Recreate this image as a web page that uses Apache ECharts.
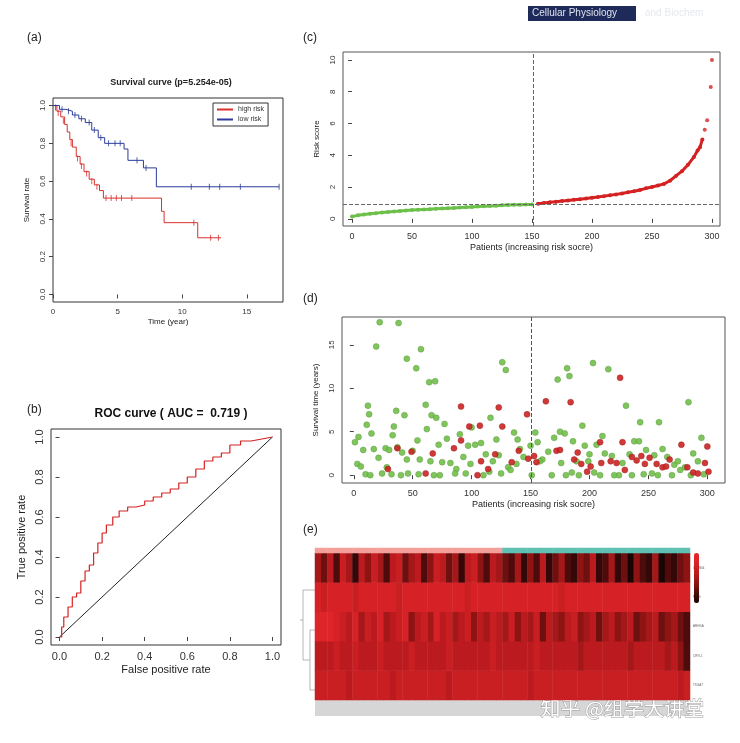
<!DOCTYPE html>
<html><head><meta charset="utf-8">
<script src="https://cdn.jsdelivr.net/npm/echarts@6/dist/echarts.min.js"></script>
<style>html,body{margin:0;padding:0;background:#fff}#c{width:740px;height:743px}</style>
</head><body><div id="c"></div>
<script>
// (a) Kaplan-Meier steps [time, survival]
const kmHigh = [[0,1],[0.3,0.97],[0.6,0.94],[0.9,0.9],[1.1,0.86],[1.3,0.82],[1.5,0.78],[1.8,0.73],[2.1,0.69],[2.4,0.65],[2.8,0.61],[3.2,0.58],[3.6,0.55],[3.9,0.51],[8.4,0.44],[8.6,0.38],[11.2,0.30],[13,0.30]];
const kmLow = [[0,1],[0.5,0.98],[1,0.97],[1.5,0.95],[2,0.93],[2.5,0.91],[3,0.87],[3.5,0.83],[4,0.80],[5.5,0.77],[5.8,0.71],[7,0.67],[8,0.57],[17.5,0.57]];
const censHigh = [[0.4,0.96],[0.8,0.92],[1.4,0.8],[1.9,0.72],[2.2,0.68],[2.6,0.64],[3,0.6],[3.4,0.57],[4.1,0.51],[4.5,0.51],[4.9,0.51],[5.3,0.51],[6.1,0.51],[10.9,0.38],[12.2,0.30],[12.8,0.30]];
const censLow = [[0.2,0.99],[0.7,0.98],[1.2,0.97],[1.7,0.95],[2.2,0.93],[2.8,0.91],[3.2,0.87],[3.7,0.83],[4.3,0.80],[4.8,0.80],[5.2,0.80],[6.5,0.71],[7.2,0.67],[10.7,0.57],[12.1,0.57],[12.9,0.57],[14.5,0.57],[17.5,0.57]];
const xTicksA = [0,5,10,15];
const yTicksA = [0,0.2,0.4,0.6,0.8,1.0];
// (b) ROC
const roc = [[0,0],[0.01,0.05],[0.02,0.1],[0.04,0.15],[0.06,0.2],[0.08,0.22],[0.1,0.28],[0.12,0.33],[0.14,0.36],[0.16,0.42],[0.18,0.47],[0.2,0.52],[0.22,0.56],[0.25,0.6],[0.28,0.63],[0.32,0.65],[0.36,0.66],[0.4,0.68],[0.44,0.7],[0.48,0.72],[0.52,0.74],[0.56,0.77],[0.6,0.8],[0.64,0.84],[0.68,0.88],[0.72,0.9],[0.76,0.92],[0.8,0.96],[0.85,0.98],[0.9,0.99],[0.95,1.0],[1,1]];
const ticksB = [0,0.2,0.4,0.6,0.8,1.0];
// (c) risk score sorted
const riskScore = [[0,0.15],[5,0.22],[10,0.28],[15,0.32],[20,0.36],[25,0.40],[30,0.43],[35,0.46],[40,0.49],[45,0.52],[50,0.55],[55,0.57],[60,0.59],[65,0.61],[70,0.63],[75,0.65],[80,0.67],[85,0.69],[90,0.71],[95,0.73],[100,0.75],[105,0.77],[110,0.79],[115,0.81],[120,0.83],[125,0.85],[130,0.87],[135,0.88],[140,0.89],[145,0.90],[150,0.91],[155,0.95],[160,1.0],[165,1.04],[170,1.08],[175,1.12],[180,1.16],[185,1.2],[190,1.24],[195,1.28],[200,1.33],[205,1.38],[210,1.43],[215,1.48],[220,1.54],[225,1.6],[230,1.67],[235,1.74],[240,1.82],[245,1.92],[250,2.0],[255,2.1],[260,2.2],[265,2.4],[270,2.7],[275,3.0],[280,3.4],[285,3.9],[288,4.3],[290,4.5],[292,5.0]];
const riskTail = [[294,5.6],[296,6.2],[299,8.3],[300,10]];
const cutoff = 151, riskCut = 0.9;
const xTicksC = [0,50,100,150,200,250,300];
const yTicksC = [0,2,4,6,8,10];
// (d) survival time: green alive, red dead
const alive = [[22,17.6],[38,17.5],[19,14.8],[57,14.5],[45,13.4],[53,12.3],[64,10.7],[69,10.8],[126,13],[129,12.1],[203,12.9],[181,12.3],[183,11.4],[173,11],[216,12.2],[231,8],[284,8.4],[12,8],[13,7],[11,5.8],[15,4.8],[36,7.4],[43,6.9],[34,5.6],[61,8.1],[62,5.3],[66,6.9],[70,6.6],[77,5.9],[116,6.6],[194,5.7],[243,6.1],[259,6.1],[1,3.8],[4,4.4],[33,4.6],[54,4],[79,4.2],[90,4.7],[100,5.5],[121,4.1],[136,4.9],[139,4.1],[154,4.9],[175,5],[179,4.8],[211,4.5],[295,4.3],[8,2.9],[17,3],[21,2],[27,3.1],[30,2.9],[37,3.2],[41,2.6],[45,1.8],[50,2.8],[56,1.8],[65,1.6],[72,3.5],[75,1.5],[82,1.4],[87,0.7],[93,2.1],[97,3.4],[103,3.5],[108,3.7],[112,2.4],[118,1.6],[123,2.3],[131,0.9],[141,3],[144,2.1],[150,3.4],[156,3.8],[160,1.8],[165,2.7],[170,4.3],[176,1.4],[186,3.9],[189,1.6],[196,3.4],[200,2.4],[206,3.5],[213,2.5],[219,2.2],[228,1.4],[234,2.4],[238,3.9],[242,3.9],[248,2.9],[255,2.3],[262,3],[266,2.1],[272,1.2],[275,1.6],[281,0.9],[288,2.5],[292,1.6],[3,1.3],[6,1],[10,0.1],[14,0],[24,0.2],[28,0.9],[32,0.1],[40,0],[46,0.2],[55,0.1],[68,0],[73,0],[86,0.2],[95,0.2],[99,1.3],[110,0],[115,0.4],[125,0.2],[133,0.6],[138,1.3],[151,0],[158,1.6],[168,0],[180,0],[185,0.3],[191,0],[199,1.6],[204,0.3],[209,0],[221,0],[225,0],[236,0],[246,0.1],[253,0.2],[258,0],[270,0],[277,0.6],[286,0],[297,0.1]];
const dead = [[29,0.7],[37,3.1],[49,2.7],[61,0.2],[67,2.5],[85,3.1],[91,7.9],[91,4],[98,5.6],[105,0],[107,5.7],[108,1.6],[114,0.7],[120,2.4],[123,7.8],[126,5.6],[134,1.5],[140,2.8],[147,7],[148,1.9],[153,2.2],[155,1.5],[163,8.5],[172,2.8],[175,2.9],[184,8.4],[187,1.8],[190,2.6],[193,1.3],[198,0.4],[201,1],[209,3.8],[210,1.4],[218,1.6],[223,1.4],[226,11.2],[228,3.8],[230,0.6],[236,2.1],[240,1.7],[244,2.2],[247,1.3],[251,2],[257,1.3],[262,0.9],[265,1],[268,1.8],[278,3.5],[283,0.9],[288,0.3],[292,0.2],[298,1.4],[300,3.3],[301,0.4]];
const yTicksD = [0,5,10,15];
// (e) heatmap rows (expression level 0..10)
const genes = ['TSGA7','CRYL1','ARHGA','PSA6','LGSN04'];
const rowA = [5,3,6,2,7,5,1,6,4,7,5,2,6,7,3,5,6,2,4,7,6,3,5,1,6,7,4,2,6,5,3,2,5,1,4,2,6,1,3,5,2,1,4,3,6,1,2,5,1,3,0,4,2,1,5,0,2,1,3,4];
const rowB = [8,7,8,8,8,8,7,8,8,8,8,8,8,7,8,8,8,8,8,8,8,8,8,8,7,8,8,8,8,8,8,8,8,8,8,8,8,8,8,7,8,8,8,8,8,8,8,8,8,8,8,8,8,8,8,8,8,8,8,8];
const rowC = [9,9,9,8,7,6,8,5,7,6,8,5,6,7,8,4,6,7,5,8,6,7,5,6,7,4,6,5,7,6,5,7,4,6,5,7,3,6,5,4,6,7,4,5,6,3,5,6,4,5,6,3,4,5,6,3,4,5,3,2];
const rowD = [6,6,6,7,6,6,7,6,6,6,7,6,6,6,6,7,6,6,6,6,6,7,6,6,6,6,6,6,7,6,6,6,6,6,6,7,6,6,6,6,6,6,5,6,6,6,6,6,6,6,5,6,6,6,6,6,5,6,4,2];
const rowE = [7,7,7,7,7,6,7,7,7,7,7,7,6,7,7,7,7,7,7,7,7,6,7,7,7,7,7,7,7,7,7,7,7,7,6,7,7,7,7,7,7,7,7,7,7,7,7,7,7,7,7,7,7,7,7,7,7,7,6,7];
const groupRow = [0,0,0,0,0,0,0,0,0,0,0,0,0,0,0,0,0,0,0,0,0,0,0,0,0,0,0,0,0,0,1,1,1,1,1,1,1,1,1,1,1,1,1,1,1,1,1,1,1,1,1,1,1,1,1,1,1,1,1,1];

const F = 'Liberation Sans';
const cols = rowA.map((_, i) => i);
const rows = [rowE, rowD, rowC, rowB, rowA];
const hmData = [];
rows.forEach((r, ri) => r.forEach((v, ci) => hmData.push([ci, ri, v])));
const grpData = groupRow.map((g, i) => [i, 0, g]);
const fmt1 = v => v.toFixed(1);
const fmt0 = v => String(Math.round(v));

function valAxis(gi, min, max, ticks, rot, name, nameGap, fs, f) {
  return {
    type: 'value', gridIndex: gi, min, max, name, nameLocation: 'middle', nameGap,
    nameTextStyle: {fontFamily: F, fontSize: fs, color: '#222'},
    axisLine: {show: false}, splitLine: {show: false},
    axisTick: {show: true, inside: false, length: 4, customValues: ticks, lineStyle: {color: '#444'}},
    axisLabel: {customValues: ticks, fontFamily: F, fontSize: fs, color: '#333', rotate: rot, margin: 6, formatter: f}
  };
}

const chart = echarts.init(document.getElementById('c'));
chart.setOption({
  animation: false,
  backgroundColor: '#fff',
  title: [
    {text: 'Survival curve (p=5.254e-05)', left: 166, top: 73, textAlign: 'center', textStyle: {fontFamily: F, fontSize: 9, fontWeight: 'bold', color: '#222'}},
    {text: 'ROC curve ( AUC =  0.719 )', left: 166, top: 403, textAlign: 'center', textStyle: {fontFamily: F, fontSize: 12, fontWeight: 'bold', color: '#111'}}
  ],
  grid: [
    {left: 53, top: 98, width: 230, height: 204, show: true, borderColor: '#333', borderWidth: 1},
    {left: 51, top: 429, width: 230, height: 216, show: true, borderColor: '#333', borderWidth: 1},
    {left: 343, top: 52, width: 377, height: 174, show: true, borderColor: '#555', borderWidth: 1},
    {left: 342, top: 317, width: 383, height: 166, show: true, borderColor: '#555', borderWidth: 1},
    {left: 315, top: 553, width: 375, height: 147},
    {left: 315, top: 548, width: 375, height: 5}
  ],
  xAxis: [
    valAxis(0, 0, 17.8, xTicksA, 0, 'Time (year)', 16, 8, fmt0),
    valAxis(1, -0.04, 1.04, ticksB, 0, 'False positive rate', 19, 11, fmt1),
    valAxis(2, -7.5, 306.7, xTicksC, 0, 'Patients (increasing risk socre)', 17, 9, fmt0),
    valAxis(3, -10, 315, xTicksC, 0, 'Patients (increasing risk socre)', 17, 9, fmt0),
    {type: 'category', gridIndex: 4, data: cols, show: false},
    {type: 'category', gridIndex: 5, data: cols, show: false}
  ],
  yAxis: [
    valAxis(0, -0.04, 1.04, yTicksA, 90, 'Survival rate', 22, 8, fmt1),
    valAxis(1, -0.04, 1.04, ticksB, 90, 'True positive rate', 24, 11, fmt1),
    valAxis(2, -0.45, 10.5, yTicksC, 90, 'Risk score', 20, 8, fmt0),
    valAxis(3, -0.9, 18.2, yTicksD, 90, 'Survival time (years)', 20, 8, fmt0),
    {type: 'category', gridIndex: 4, data: genes, position: 'right', axisLine: {show: false}, axisTick: {show: false}, axisLabel: {fontSize: 3, color: '#666', margin: 3}},
    {type: 'category', gridIndex: 5, data: ['Risk'], show: false}
  ],
  visualMap: [
    {type: 'continuous', seriesIndex: 10, min: 0, max: 10, calculable: false, right: 26, top: 538, itemWidth: 5, itemHeight: 50,
     text: ['', ''], textStyle: {fontSize: 4, color: '#666'},
     inRange: {color: ['#1a0505', '#4d0b0b', '#8e1414', '#bb1b1e', '#d62226', '#e6282c']}},
    {type: 'piecewise', seriesIndex: 11, show: false, pieces: [{value: 0, color: '#f4a09a'}, {value: 1, color: '#5fc0b4'}]}
  ],
  legend: {
    data: ['high risk', 'low risk'], orient: 'vertical', left: 213, top: 103, itemWidth: 16, itemHeight: 2, itemGap: 3,
    icon: 'rect', textStyle: {fontFamily: F, fontSize: 7, color: '#333'},
    borderColor: '#333', borderWidth: 1, padding: [3, 4], backgroundColor: '#fff'
  },
  series: [
    {name: 'high risk', type: 'line', step: 'end', xAxisIndex: 0, yAxisIndex: 0, data: kmHigh, showSymbol: false, lineStyle: {color: '#d9302c', width: 1}, itemStyle: {color: '#d9302c'}},
    {name: 'low risk', type: 'line', step: 'end', xAxisIndex: 0, yAxisIndex: 0, data: kmLow, showSymbol: false, lineStyle: {color: '#2c3c9c', width: 1}, itemStyle: {color: '#2c3c9c'}},
    {type: 'scatter', xAxisIndex: 0, yAxisIndex: 0, data: censHigh, symbol: 'rect', symbolSize: [1, 6], itemStyle: {color: '#d9302c'}},
    {type: 'scatter', xAxisIndex: 0, yAxisIndex: 0, data: censLow, symbol: 'rect', symbolSize: [1, 6], itemStyle: {color: '#2c3c9c'}},
    {type: 'line', xAxisIndex: 1, yAxisIndex: 1, data: [[0, 0], [1, 1]], showSymbol: false, lineStyle: {color: '#222', width: 1}},
    {type: 'line', step: 'end', xAxisIndex: 1, yAxisIndex: 1, data: roc, showSymbol: false, lineStyle: {color: '#d42222', width: 1.2}},
    {type: 'line', xAxisIndex: 2, yAxisIndex: 2, data: riskScore.filter(p => p[0] <= cutoff), showSymbol: true, symbol: 'circle', symbolSize: 4,
     lineStyle: {color: '#6cc04a', width: 3}, itemStyle: {color: '#6cc04a'},
     markLine: {silent: true, symbol: 'none', label: {show: false}, lineStyle: {color: '#666', type: 'dashed', width: 1},
       data: [{xAxis: cutoff}, {yAxis: riskCut}]}},
    {type: 'line', xAxisIndex: 2, yAxisIndex: 2, data: riskScore.filter(p => p[0] >= cutoff), showSymbol: true, symbol: 'circle', symbolSize: 4,
     lineStyle: {color: '#d42222', width: 3}, itemStyle: {color: '#d42222'}},
    {type: 'scatter', xAxisIndex: 3, yAxisIndex: 3, data: alive, symbolSize: 6, itemStyle: {color: '#72bf4a', borderColor: '#5a9a40', borderWidth: 0.5, opacity: 0.9},
     markLine: {silent: true, symbol: 'none', label: {show: false}, lineStyle: {color: '#555', type: 'dashed', width: 1}, data: [{xAxis: cutoff}]}},
    {type: 'scatter', xAxisIndex: 3, yAxisIndex: 3, data: dead, symbolSize: 6, itemStyle: {color: '#cc2424', borderColor: '#992020', borderWidth: 0.5, opacity: 0.9}},
    {type: 'heatmap', xAxisIndex: 4, yAxisIndex: 4, data: hmData},
    {type: 'heatmap', xAxisIndex: 5, yAxisIndex: 5, data: grpData},
    {type: 'scatter', xAxisIndex: 2, yAxisIndex: 2, data: riskTail, symbolSize: 4, itemStyle: {color: '#d42222'}}
  ],
  graphic: [
    {type: 'text', left: 27, top: 32, style: {text: '(a)', font: '12px "Liberation Sans"', fill: '#222'}},
    {type: 'text', left: 27, top: 404, style: {text: '(b)', font: '12px "Liberation Sans"', fill: '#222'}},
    {type: 'text', left: 303, top: 32, style: {text: '(c)', font: '12px "Liberation Sans"', fill: '#222'}},
    {type: 'text', left: 303, top: 293, style: {text: '(d)', font: '12px "Liberation Sans"', fill: '#222'}},
    {type: 'text', left: 303, top: 524, style: {text: '(e)', font: '12px "Liberation Sans"', fill: '#222'}},
    {type: 'rect', shape: {x: 528, y: 6, width: 108, height: 15}, style: {fill: '#1e2a5a'}},
    {type: 'text', left: 532, top: 8, style: {text: 'Cellular Physiology', font: '10px "Liberation Sans"', fill: '#dfe3f0'}},
    {type: 'text', left: 645, top: 8, style: {text: 'and Biochem', font: '10px "Liberation Sans"', fill: '#e6e8ef'}},
    {type: 'rect', shape: {x: 315, y: 700, width: 375, height: 16}, style: {fill: '#d6d6d6'}},
    {type: 'polyline', shape: {points: [[315, 590], [303, 590], [303, 660], [310, 660], [310, 690], [315, 690]]}, style: {stroke: '#999', fill: 'none', lineWidth: 0.7}},
    {type: 'polyline', shape: {points: [[310, 660], [310, 630], [315, 630]]}, style: {stroke: '#999', fill: 'none', lineWidth: 0.7}},
    {type: 'polyline', shape: {points: [[303, 620], [300, 620]]}, style: {stroke: '#999', fill: 'none', lineWidth: 0.7}},
    {type: 'text', left: 540, top: 698, style: {text: '知乎 @组学大讲堂', font: '20px "Noto Sans CJK SC"', fill: '#ffffff', stroke: '#9a9a9a', lineWidth: 1}}
  ]
});
</script></body></html>
